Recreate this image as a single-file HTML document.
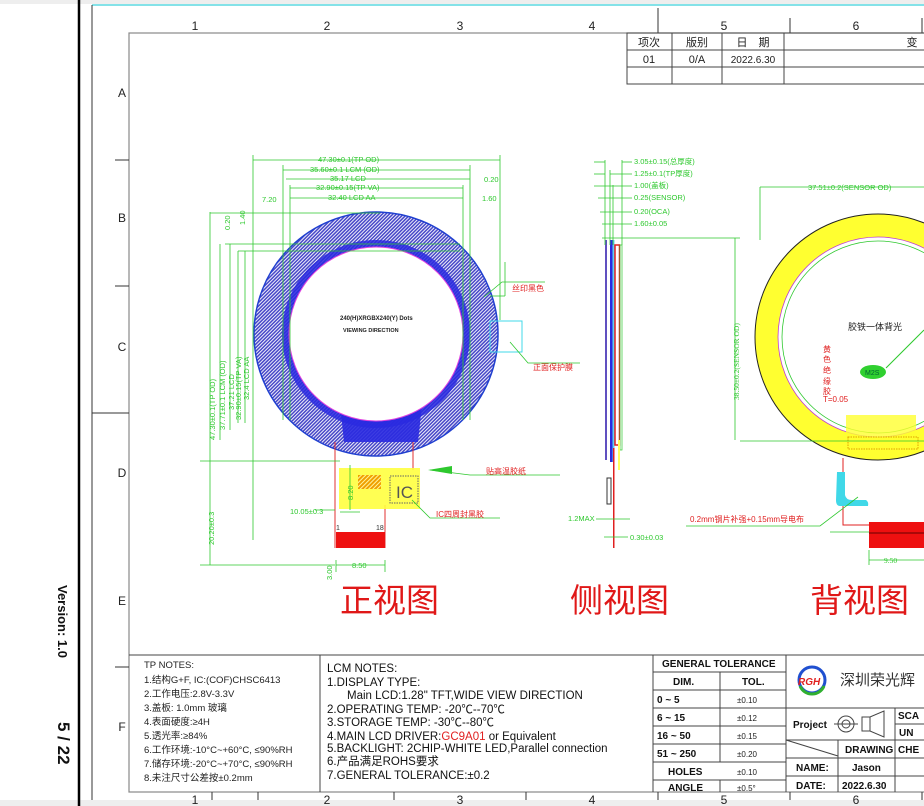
<!DOCTYPE html>
<html><head><meta charset="utf-8"><style>
html,body{margin:0;padding:0;background:#fff;}
svg{display:block;}
text{font-family:"Liberation Sans","Noto Sans CJK SC",sans-serif;}
.g{fill:#2ec82e;font-family:"Liberation Serif","Noto Serif CJK SC",serif;font-size:7.5px;}
.r{fill:#e02020;font-family:"Liberation Serif","Noto Serif CJK SC",serif;font-size:8px;}
.n{font-size:9.5px;fill:#222;}
.m{font-size:11.5px;fill:#111;}
.b{font-family:"Liberation Serif","Noto Serif CJK SC",serif;font-weight:bold;font-size:10px;fill:#111;}
</style></head><body>
<svg width="924" height="806" viewBox="0 0 924 806" xmlns="http://www.w3.org/2000/svg">
<defs>
<pattern id="h" width="2.5" height="2.5" patternUnits="userSpaceOnUse" patternTransform="rotate(45)">
<rect width="2.5" height="2.5" fill="#4848c8"/><rect width="0.9" height="2.5" fill="#fff"/></pattern>
<pattern id="o" width="3" height="3" patternUnits="userSpaceOnUse" patternTransform="rotate(45)">
<rect width="3" height="3" fill="#f0a000"/><rect width="1" height="3" fill="#fff6a0"/></pattern>
</defs>
<rect x="0" y="0" width="924" height="4" fill="#eee"/>
<rect x="0" y="800" width="924" height="6" fill="#eee"/>
<line x1="79" y1="0" x2="79" y2="806" stroke="#000" stroke-width="2.5"/>
<line x1="92" y1="5" x2="924" y2="5" stroke="#5cd8e0" stroke-width="1.5"/>
<line x1="92" y1="5" x2="92" y2="800" stroke="#333" stroke-width="1"/>
<rect x="129" y="33" width="800" height="759" fill="none" stroke="#888" stroke-width="1.2"/>
<g stroke="#333" stroke-width="1"><line x1="115" y1="160" x2="129" y2="160"/><line x1="115" y1="286" x2="129" y2="286"/><line x1="92" y1="413" x2="129" y2="413"/><line x1="115" y1="667" x2="129" y2="667"/><line x1="129" y1="655" x2="140" y2="655"/>
<line x1="658" y1="8" x2="658" y2="33"/><line x1="790" y1="18" x2="790" y2="33"/><line x1="922" y1="18" x2="922" y2="33"/>
<line x1="212" y1="792" x2="212" y2="800"/><line x1="258" y1="792" x2="258" y2="800"/><line x1="394" y1="792" x2="394" y2="800"/><line x1="526" y1="792" x2="526" y2="800"/><line x1="658" y1="792" x2="658" y2="800"/><line x1="790" y1="792" x2="790" y2="800"/><line x1="922" y1="792" x2="922" y2="800"/></g>
<g font-size="12" fill="#222" text-anchor="middle">
<text x="195" y="30">1</text><text x="327" y="30">2</text><text x="460" y="30">3</text><text x="592" y="30">4</text><text x="724" y="30">5</text><text x="856" y="30">6</text>
<text x="195" y="804">1</text><text x="327" y="804">2</text><text x="460" y="804">3</text><text x="592" y="804">4</text><text x="724" y="804">5</text><text x="856" y="804">6</text>
<text x="122" y="97">A</text><text x="122" y="222">B</text><text x="122" y="351">C</text><text x="122" y="477">D</text><text x="122" y="605">E</text><text x="122" y="731">F</text></g>
<text transform="translate(58,585) rotate(90)" font-size="13" font-weight="bold" fill="#111">Version: 1.0</text>
<text transform="translate(58,722) rotate(90)" font-size="17" font-weight="bold" fill="#111">5 / 22</text>
<g stroke="#444" stroke-width="1" fill="none"><rect x="627" y="33" width="300" height="51"/><line x1="627" y1="50" x2="924" y2="50"/><line x1="627" y1="67" x2="924" y2="67"/><line x1="672" y1="33" x2="672" y2="84"/><line x1="722" y1="33" x2="722" y2="84"/><line x1="784" y1="33" x2="784" y2="84"/></g>
<g font-size="11" fill="#222" text-anchor="middle"><text x="649" y="46">项次</text><text x="697" y="46">版别</text><text x="753" y="46">日　期</text><text x="912" y="46">变</text><text x="649" y="63">01</text><text x="697" y="63">0/A</text><text x="753" y="63" font-size="10">2022.6.30</text></g>
<!-- front view -->
<circle cx="376" cy="334" r="122" fill="url(#h)" stroke="#2040d0" stroke-width="1.5"/>
<circle cx="376" cy="334" r="94" fill="#2a2ae0" opacity="0.85"/>
<path d="M340 405 L422 405 L418 442 L344 442 Z" fill="#2a2ae0" opacity="0.9"/>
<circle cx="376" cy="334" r="87" fill="#fff" stroke="#e040e0" stroke-width="1"/>
<text x="340" y="320" font-size="6" font-family="Liberation Serif" font-weight="bold" fill="#222">240(H)XRGBX240(Y) Dots</text>
<text x="343" y="332" font-size="5.5" font-family="Liberation Serif" font-weight="bold" fill="#222">VIEWING DIRECTION</text>
<rect x="490" y="321" width="32" height="31" fill="none" stroke="#40d8e8"/>
<path d="M335 442 L335 548 M385 505 L385 548 M413 442 L413 470" stroke="#e03030" fill="none"/>
<rect x="339" y="468" width="81" height="41" fill="#ffff40" opacity="0.9"/>
<rect x="358" y="475" width="23" height="14" fill="url(#o)"/>
<rect x="390" y="476" width="28" height="27" fill="none" stroke="#666" stroke-dasharray="1.5 1"/>
<text x="396" y="498" font-size="17" fill="#555">IC</text>
<rect x="336" y="532" width="49" height="16" fill="#ee1010"/>
<text x="336" y="530" font-size="7" fill="#333">1</text><text x="376" y="530" font-size="7" fill="#333">18</text>
<g stroke="#2ec82e" stroke-width="0.8" fill="none">
<line x1="253" y1="160" x2="500" y2="160"/><line x1="283" y1="170" x2="470" y2="170"/><line x1="286" y1="179" x2="470" y2="179"/><line x1="290" y1="188" x2="463" y2="188"/><line x1="290" y1="198" x2="463" y2="198"/>
<line x1="253" y1="155" x2="253" y2="540"/><line x1="500" y1="155" x2="500" y2="320"/><line x1="283" y1="165" x2="283" y2="420"/><line x1="470" y1="165" x2="470" y2="420"/><line x1="290" y1="185" x2="290" y2="420"/><line x1="463" y1="185" x2="463" y2="420"/>
<line x1="210" y1="213" x2="380" y2="213"/><line x1="225" y1="244" x2="460" y2="244"/><line x1="238" y1="251" x2="460" y2="251"/>
<line x1="210" y1="212" x2="210" y2="565"/><line x1="220" y1="244" x2="220" y2="440"/><line x1="230" y1="244" x2="230" y2="430"/><line x1="238" y1="251" x2="238" y2="423"/><line x1="245" y1="251" x2="245" y2="423"/>
<line x1="200" y1="461" x2="340" y2="461"/><line x1="200" y1="565" x2="335" y2="565"/><line x1="340" y1="512" x2="360" y2="512"/><line x1="315" y1="510" x2="335" y2="510"/>
<line x1="350" y1="465" x2="350" y2="510"/><line x1="336" y1="560" x2="336" y2="572"/><line x1="385" y1="560" x2="385" y2="572"/><line x1="336" y1="565" x2="385" y2="565"/>
<line x1="490" y1="296" x2="505" y2="296"/><line x1="505" y1="296" x2="505" y2="262"/><path d="M484 297 L502 282 L545 282"/><path d="M510 342 L528 363 L580 363"/>
<path d="M430 470 L470 475 L560 475" /><path d="M412 500 L430 518 L500 518"/>
</g>
<path d="M428 470 L452 466 L452 474 Z" fill="#2ec82e"/>
<g class="g"><text x="318" y="162">47.30±0.1(TP OD)</text><text x="310" y="172">35.60±0.1  LCM  (OD)</text><text x="330" y="181">35.17  LCD</text><text x="316" y="190">32.90±0.15(TP VA)</text><text x="328" y="200">32.40  LCD  AA</text>
<text x="262" y="202">7.20</text><text x="484" y="182">0.20</text><text x="482" y="201">1.60</text><text x="290" y="514">10.05±0.3</text><text x="352" y="568">8.50</text></g>
<g class="g" transform="rotate(-90)"><text x="-440" y="215">47.30±0.1(TP OD)</text><text x="-430" y="225">37.71±0.1  LCM  (OD)</text><text x="-410" y="234">37.21  LCD</text><text x="-420" y="241">32.90±0.15(TP VA)</text><text x="-400" y="249">32.4  LCD  AA</text><text x="-230" y="230">0.20</text><text x="-225" y="245">1.40</text><text x="-545" y="214">20.20±0.3</text><text x="-500" y="353">8.20</text><text x="-580" y="332">3.00</text></g>
<g class="r"><text x="512" y="291">丝印黑色</text><text x="533" y="370">正面保护膜</text><text x="486" y="474">贴高温胶纸</text><text x="436" y="517">IC四周封黑胶</text></g>
<!-- side view -->
<rect x="605" y="240" width="2" height="220" fill="#6050c0"/>
<rect x="610" y="240" width="2.5" height="222" fill="#2a2ae0"/>
<rect x="612.5" y="240" width="2" height="222" fill="#60d0f0"/>
<rect x="615" y="245" width="4.5" height="200" fill="#fff" stroke="#e02020" stroke-width="1.5"/>
<rect x="620" y="245" width="2" height="205" fill="none" stroke="#2ec82e" stroke-width="0.7"/>
<rect x="618" y="440" width="2" height="30" fill="#ffff60"/>
<rect x="607" y="478" width="4" height="26" fill="none" stroke="#333"/>
<rect x="613" y="448" width="1.5" height="100" fill="#e02020"/>
<g stroke="#2ec82e" stroke-width="0.8"><line x1="605" y1="160" x2="605" y2="245"/><line x1="622" y1="160" x2="622" y2="245"/><line x1="610" y1="170" x2="610" y2="245"/><line x1="613" y1="185" x2="613" y2="245"/>
<line x1="594" y1="162" x2="605" y2="162"/><line x1="622" y1="162" x2="632" y2="162"/><line x1="594" y1="174" x2="605" y2="174"/><line x1="610" y1="174" x2="632" y2="174"/><line x1="594" y1="186" x2="632" y2="186"/><line x1="598" y1="198" x2="632" y2="198"/><line x1="600" y1="212" x2="632" y2="212"/><line x1="602" y1="224" x2="632" y2="224"/>
<line x1="596" y1="519" x2="630" y2="519"/><line x1="604" y1="537" x2="628" y2="537"/>
<line x1="602" y1="238" x2="740" y2="238"/><line x1="735" y1="238" x2="735" y2="440"/><line x1="760" y1="187" x2="760" y2="240"/><line x1="760" y1="187" x2="924" y2="187"/></g>
<g class="g"><text x="634" y="164">3.05±0.15(总厚度)</text><text x="634" y="176">1.25±0.1(TP厚度)</text><text x="634" y="188">1.00(盖板)</text><text x="634" y="200">0.25(SENSOR)</text><text x="634" y="214">0.20(OCA)</text><text x="634" y="226">1.60±0.05</text><text x="568" y="521">1.2MAX</text><text x="630" y="540">0.30±0.03</text><text x="808" y="190">37.51±0.2(SENSOR OD)</text></g>
<text class="g" transform="translate(739,400) rotate(-90)">38.50±0.2(SENSOR OD)</text>
<!-- back view -->
<circle cx="878" cy="337" r="123" fill="#ffff30" stroke="#222" stroke-width="1"/>
<circle cx="878" cy="337" r="100" fill="#fff" stroke="#c040d0" stroke-width="0.8"/>
<circle cx="878" cy="337" r="96" fill="none" stroke="#2ec82e" stroke-width="0.8"/>
<rect x="846" y="415" width="70" height="25" fill="#ffff30" opacity="0.8"/>
<rect x="848" y="437" width="70" height="12" fill="none" stroke="#e0a000" stroke-dasharray="1.5 1"/>
<line x1="740" y1="441" x2="924" y2="441" stroke="#2ec82e" stroke-width="0.8"/>
<path d="M843 458 L843 472 M843 506 L843 525 L869 525" stroke="#e02020" fill="none"/>
<path d="M837 472 L845 472 L845 495 Q846 500 852 500 L866 500 Q869 502 868 506 L840 506 Q836 506 836 500 Z" fill="#40d8e8"/>
<rect x="869" y="522" width="55" height="26" fill="#ee1010"/>
<line x1="869" y1="533" x2="924" y2="533" stroke="#600" stroke-width="1"/>
<ellipse cx="873" cy="372" rx="13" ry="7" fill="#30d030"/>
<text x="865" y="375" font-size="7" fill="#063">M2S</text>
<line x1="886" y1="368" x2="924" y2="330" stroke="#2ec82e"/>
<text x="848" y="330" font-size="9" fill="#222">胶铁一体背光</text>
<g class="r"><text x="823" y="352">黄</text><text x="823" y="362">色</text><text x="823" y="373">绝</text><text x="823" y="384">缘</text><text x="823" y="394">胶</text><text x="823" y="402">T=0.05</text><text x="690" y="522">0.2mm钢片补强+0.15mm导电布</text></g>
<g stroke="#2ec82e" stroke-width="0.8" fill="none"><path d="M686 526 L820 526 L858 497"/><line x1="830" y1="532" x2="869" y2="532"/><line x1="869" y1="560" x2="924" y2="560"/><line x1="869" y1="550" x2="869" y2="565"/></g>
<text class="g" x="884" y="563">9.50</text>
<g fill="#e01818" font-size="33" font-family="'Noto Serif CJK SC',serif"><text x="340" y="612">正视图</text><text x="570" y="612">侧视图</text><text x="810" y="612">背视图</text></g>
<!-- bottom table -->
<g stroke="#444" stroke-width="1" fill="none"><line x1="129" y1="655" x2="924" y2="655"/><line x1="320" y1="655" x2="320" y2="792"/><line x1="653" y1="655" x2="653" y2="792"/><line x1="786" y1="655" x2="786" y2="792"/>
<line x1="653" y1="672" x2="786" y2="672"/><line x1="653" y1="690" x2="786" y2="690"/><line x1="653" y1="708" x2="924" y2="708"/><line x1="653" y1="726" x2="786" y2="726"/><line x1="653" y1="744" x2="786" y2="744"/><line x1="653" y1="762" x2="786" y2="762"/><line x1="653" y1="780" x2="786" y2="780"/>
<line x1="720" y1="672" x2="720" y2="762"/><line x1="720" y1="780" x2="720" y2="792"/><line x1="895" y1="708" x2="895" y2="792"/><line x1="838" y1="740" x2="838" y2="792"/><line x1="786" y1="740" x2="924" y2="740"/><line x1="786" y1="758" x2="924" y2="758"/><line x1="786" y1="776" x2="924" y2="776"/><line x1="895" y1="724" x2="924" y2="724"/><line x1="786" y1="740" x2="838" y2="756"/>
<circle cx="846" cy="724" r="8"/><circle cx="846" cy="724" r="4"/><line x1="834" y1="724" x2="858" y2="724"/><path d="M862 717 L870 717 L884 711 L884 737 L870 731 L862 731 Z"/><line x1="870" y1="717" x2="870" y2="731"/></g>
<g class="n"><text x="144" y="668">TP NOTES:</text><text x="144" y="683">1.结构G+F, IC:(COF)CHSC6413</text><text x="144" y="697">2.工作电压:2.8V-3.3V</text><text x="144" y="711">3.盖板: 1.0mm 玻璃</text><text x="144" y="725">4.表面硬度:≥4H</text><text x="144" y="739">5.透光率:≥84%</text><text x="144" y="753">6.工作环境:-10°C~+60°C, ≤90%RH</text><text x="144" y="767">7.储存环境:-20°C~+70°C, ≤90%RH</text><text x="144" y="781">8.未注尺寸公差按±0.2mm</text></g>
<g class="m"><text x="327" y="672">LCM NOTES:</text><text x="327" y="686">1.DISPLAY TYPE:</text><text x="347" y="699">Main LCD:1.28" TFT,WIDE VIEW DIRECTION</text><text x="327" y="713">2.OPERATING TEMP: -20℃--70℃</text><text x="327" y="726">3.STORAGE TEMP: -30℃--80℃</text><text x="327" y="740">4.MAIN LCD DRIVER:<tspan fill="#e02020">GC9A01</tspan> or Equivalent</text><text x="327" y="752">5.BACKLIGHT: 2CHIP-WHITE LED,Parallel connection</text><text x="327" y="765">6.产品满足ROHS要求</text><text x="327" y="779">7.GENERAL TOLERANCE:±0.2</text></g>
<g class="b"><text x="662" y="667">GENERAL TOLERANCE</text><text x="673" y="685">DIM.</text><text x="742" y="685">TOL.</text><text x="657" y="703">0  ~  5</text><text x="657" y="721">6  ~ 15</text><text x="657" y="739">16 ~ 50</text><text x="657" y="757">51 ~ 250</text><text x="668" y="775">HOLES</text><text x="668" y="791">ANGLE</text>
<text x="793" y="728">Project</text><text x="898" y="719">SCA</text><text x="899" y="736">UN</text><text x="845" y="753">DRAWING</text><text x="898" y="753">CHE</text><text x="796" y="771">NAME:</text><text x="852" y="771">Jason</text><text x="796" y="789">DATE:</text><text x="842" y="789">2022.6.30</text></g>
<g font-size="8" fill="#222"><text x="737" y="703">±0.10</text><text x="737" y="721">±0.12</text><text x="737" y="739">±0.15</text><text x="737" y="757">±0.20</text><text x="737" y="775">±0.10</text><text x="737" y="791">±0.5°</text></g>
<circle cx="812" cy="680" r="13" fill="none" stroke="#2050d0" stroke-width="3"/>
<path d="M800 686 A13 13 0 0 0 824 686" fill="none" stroke="#30b030" stroke-width="3"/>
<text x="798" y="685" font-size="10" font-weight="bold" font-style="italic" fill="#e02020">RGH</text>
<text x="840" y="685" font-size="15" fill="#333">深圳荣光辉</text>
</svg>
</body></html>
